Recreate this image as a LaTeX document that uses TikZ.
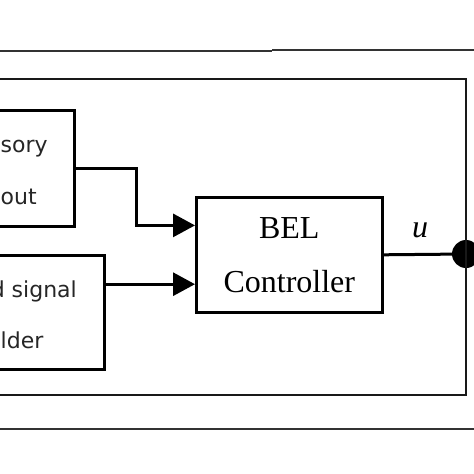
\documentclass[tikz,border=0pt]{standalone}
\usepackage{fontspec}
\setmainfont{Liberation Serif}
\newfontfamily\boxfont{DejaVu Sans}
\usetikzlibrary{arrows.meta,calc}
\tikzset{
  box/.style={draw=black, line width=2.6bp, rectangle, inner sep=0pt},
  conn/.style={draw=black, line width=3bp},
  arr/.style={conn, -{Triangle[length=22bp,width=23bp]}},
  frame/.style={draw=black!90, line width=2.8bp},
  rule/.style={draw=black!80, line width=2bp},
  sanslabel/.style={inner sep=0pt, font=\boxfont\fontsize{22bp}{26bp}\selectfont, text=black!85},
  serlabel/.style={font=\fontsize{32bp}{54bp}\selectfont, align=center}
}
\begin{document}
\begin{tikzpicture}[x=1bp,y=-1bp]
\useasboundingbox (0,0) rectangle (474,474);
\clip (0,0) rectangle (474,474);
\fill[white] (0,0) rectangle (474,474);
% horizontal rules
\draw[rule] (-5,51.5) -- (272,51.5);
\draw[rule] (272,50.5) -- (480,50.5);
\draw[rule] (-5,429) -- (480,429);
% blocks
\node[box, minimum width=176bp, minimum height=116bp, anchor=north east] (sens) at (76,109) {};
\node[box, minimum width=200bp, minimum height=114bp, anchor=north east] (sig) at (106,254) {};
\node[box, serlabel, minimum width=186bp, minimum height=115bp, anchor=north west] (bel) at (195,196) {BEL\\Controller};
% texts cut by the left edge in the reference
\node[sanslabel, anchor=base west] (t1) at (0.5,153) {sory};
\node[sanslabel, anchor=base west] (t2) at (0.5,205) {out};
\node[sanslabel, anchor=base east] (t3) at (77,297) {d signal};
\node[sanslabel, anchor=base west] (t4) at (0.5,348) {lder};
% junction
\node[circle, fill=black, minimum size=28bp, inner sep=0pt] (dot) at (466,254) {};
% outer frame
\draw[frame] (-10,79) -- (466,79) -- (466,395) -- (-10,395);
% connectors
\coordinate (b1) at ($(bel.north west)!0.25!(bel.south west)$);
\coordinate (b2) at ($(bel.north west)!0.75!(bel.south west)$);
\draw[arr] (sens.east) -- ++(60,0) |- (b1);
\draw[arr] (sig.east |- b2) -- (b2);
\draw[conn] (bel.east) -- (dot);
\node[font=\fontsize{32bp}{36bp}\selectfont\itshape, anchor=base, inner sep=0pt] (ulab) at (420,237) {u};
\end{tikzpicture}
\end{document}
